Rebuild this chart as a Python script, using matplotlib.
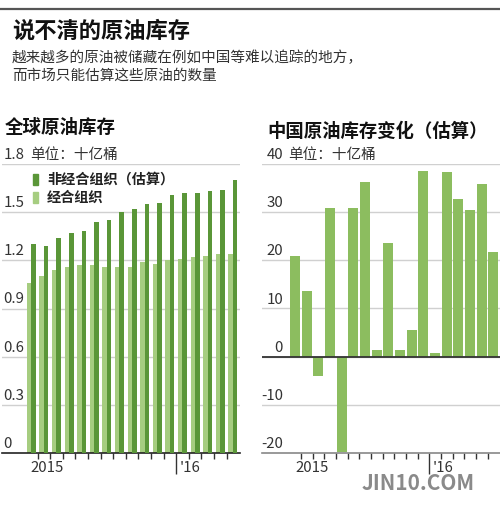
import matplotlib

matplotlib.use('Agg')
import matplotlib.pyplot as plt
import matplotlib.transforms as mtransforms
from matplotlib.lines import Line2D
from matplotlib.patches import Rectangle
import numpy as np

plt.rcParams['font.family'] = ['Noto Sans CJK SC', 'DejaVu Sans']

# 全球原油库存，单位：十亿桶（2015年1月 - 2016年5月）
non_oecd = [1.30, 1.29, 1.34, 1.37, 1.38, 1.44, 1.45, 1.50, 1.52,
            1.55, 1.56, 1.61, 1.62, 1.62, 1.63, 1.64, 1.70]
oecd = [1.06, 1.10, 1.14, 1.16, 1.17, 1.17, 1.16, 1.16, 1.16,
        1.19, 1.18, 1.20, 1.21, 1.22, 1.23, 1.24, 1.24]

# 中国原油库存变化（估算）（2015年1月 - 2016年6月）
china_change = [20.8, 13.7, -4.1, 30.8, -19.7, 30.9, 36.2, 1.4, 23.5,
                1.4, 5.5, 38.6, 0.7, 38.4, 32.7, 30.4, 35.8, 21.8]

left_ticks = [0, 0.3, 0.6, 0.9, 1.2, 1.5, 1.8]
left_labels = ['0', '0.3', '0.6', '0.9', '1.2', '1.5', '1.8']
right_ticks = [-20, -10, 0, 10, 20, 30, 40]
right_labels = ['-20', '-10', '0', '10', '20', '30', '40']
year_labels = ['2015', "'16"]
legend_labels = ['非经合组织（估算）', '经合组织']

DARK = '#5a9638'
LIGHT = '#a6cd80'
MID = '#8cbd5f'
GRID = '#d0d0d0'
W, H = 500, 514


def fx(px):
    return px / W


def fy(py):
    return 1 - py / H


fig = plt.figure(figsize=(W / 100, H / 100), dpi=100)

# header
fig.add_artist(Line2D([0, 1], [fy(9), fy(9)], color='#555555', lw=1.6))
fig.text(fx(12), fy(31.5), '说不清的原油库存', fontsize=16,
         fontweight='bold', va='center', color='#111111')
fig.text(fx(12), fy(57.5), '越来越多的原油被储藏在例如中国等难以追踪的地方，',
         fontsize=10.5, va='center', color='#333333')
fig.text(fx(12), fy(75.5), '而市场只能估算这些原油的数量',
         fontsize=10.5, va='center', color='#333333')


def style_axis(ax, ticks, labels, xlab, ha, base_color, long_tick):
    ax.set_yticks([])
    for side in ('top', 'right', 'left'):
        ax.spines[side].set_visible(False)
    ax.spines['bottom'].set_color(base_color)
    ax.spines['bottom'].set_linewidth(1.2)
    blend = mtransforms.blended_transform_factory(ax.transAxes, ax.transData)
    lift = mtransforms.offset_copy(blend, fig=fig, x=0, y=2, units='dots')
    for v, lab in zip(ticks, labels):
        if v != ticks[0]:
            ax.axhline(v, color=GRID, lw=1, zorder=0)
        ax.text(xlab, v, lab, transform=lift, ha=ha, va='bottom',
                fontsize=10.8, color='#333333')
    ax.set_xticks([long_tick])
    ax.set_xticklabels([])
    ax.tick_params(axis='x', which='major', length=15, width=1,
                   color='#333333', direction='out')
    ax.tick_params(axis='x', which='minor', length=4, width=1,
                   color='#333333', direction='out')


def year_text(ax, ylow, positions):
    for pos, lab, dx in zip(positions, year_labels, (0, 3)):
        tr = mtransforms.offset_copy(ax.transData, fig=fig, x=dx, y=-8,
                                     units='dots')
        ax.text(pos, ylow, lab, transform=tr, ha='left', va='top',
                fontsize=10.8, color='#333333')


def unit_text(ax, xpos, ytop):
    tr = mtransforms.offset_copy(
        mtransforms.blended_transform_factory(ax.transAxes, ax.transData),
        fig=fig, x=0, y=2, units='dots')
    ax.text(xpos, ytop, '单位：十亿桶', transform=tr, va='bottom',
            fontsize=10.5, color='#333333')


# left chart
ax1 = fig.add_axes([fx(2), fy(453), fx(238), 289 / H])
x1 = np.arange(len(non_oecd))
ax1.bar(x1 - 0.17, oecd, width=0.37, color=LIGHT, zorder=2)
ax1.bar(x1 + 0.17, non_oecd, width=0.37, color=DARK, zorder=3)
ax1.set_xlim(-2.33, 16.56)
ax1.set_ylim(0, 1.8)
style_axis(ax1, left_ticks, left_labels, 0.005, 'left', '#222222', 11.5)
ax1.set_xticks([i + 0.5 for i in range(16) if i != 11], minor=True)
year_text(ax1, 0, [-0.1, 11.5])
unit_text(ax1, 0.12, 1.8)

fig.text(fx(5), fy(127.5), '全球原油库存', fontsize=13.3, fontweight='bold',
         va='center', color='#111111')
for i, (lab, col) in enumerate(zip(legend_labels, [DARK, LIGHT])):
    top = 174 + i * 18
    fig.add_artist(Rectangle((fx(33), fy(top + 11)), fx(5), 11 / H,
                             color=col, transform=fig.transFigure))
    fig.text(fx(47), fy(top + 5.5), lab, fontsize=10.2, fontweight='bold',
             va='center', color='#222222')

# right chart
ax2 = fig.add_axes([fx(262), fy(453), fx(238), 289 / H])
x2 = np.arange(len(china_change))
ax2.bar(x2, china_change, width=0.86, color=MID, zorder=2)
ax2.axhline(0, color='#333333', lw=1.3, zorder=4)
ax2.set_xlim(-2.83, 17.57)
ax2.set_ylim(-20, 40)
style_axis(ax2, right_ticks, right_labels, 0.088, 'right', '#888888', 11.5)
ax2.set_xticks([i + 0.5 for i in range(17) if i != 11], minor=True)
year_text(ax2, -20, [0, 11.5])
unit_text(ax2, 0.112, 40)

fig.text(fx(267), fy(131), '中国原油库存变化（估算）', fontsize=13.2,
         fontweight='bold', va='center', color='#111111')

fig.text(fx(418), fy(484), 'JIN10.COM', fontsize=15, fontweight='bold',
         ha='center', va='center', color='#8a8a8a')

fig.savefig('out.png', dpi=100)
